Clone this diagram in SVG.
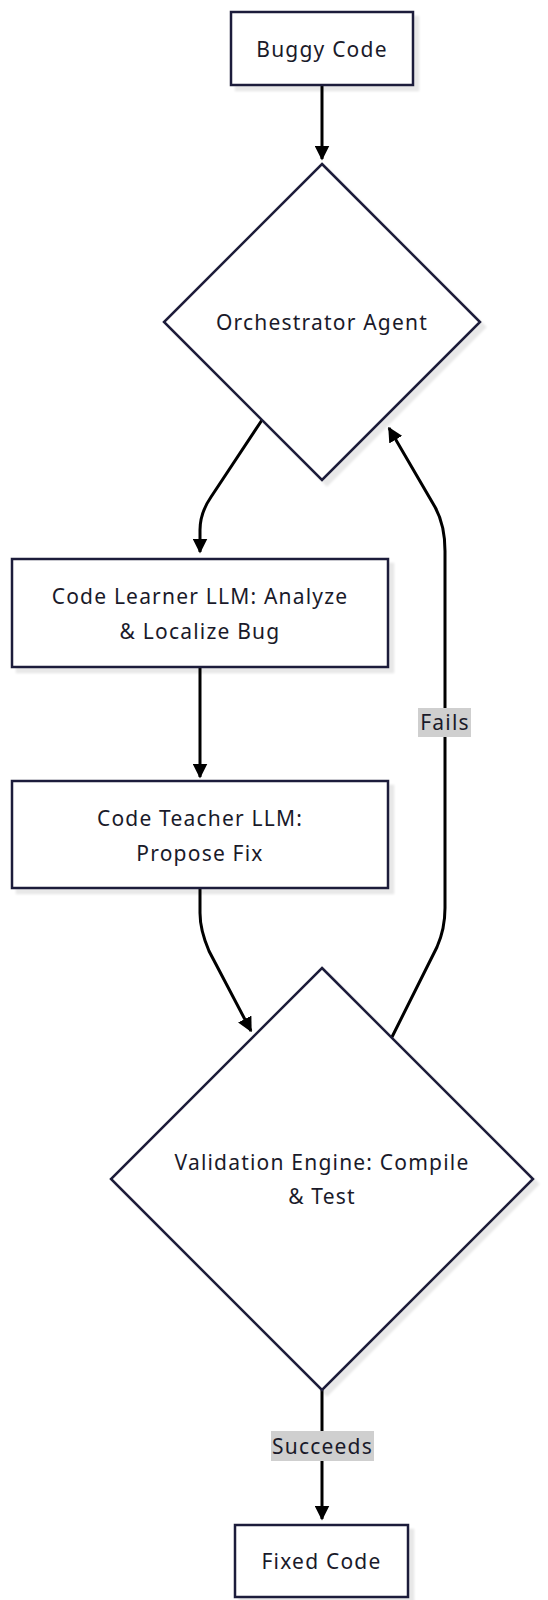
<svg xmlns="http://www.w3.org/2000/svg" width="548" height="1600" viewBox="0 0 548 1600">
<defs>
<style>
.node{fill:#ffffff;stroke:#1f1d3a;stroke-width:2.5;filter:url(#sh)}
.lbl{font-family:"Noto Sans","Open Sans",sans-serif;font-size:21px;letter-spacing:1.2px;fill:#1a1a2a;text-anchor:middle;dominant-baseline:central}
.edge{fill:none;stroke:#000;stroke-width:3;marker-end:url(#arr)}
.ebg{fill:#cfcfcf}
</style>
<filter id="sh" x="-10%" y="-10%" width="130%" height="130%">
<feDropShadow dx="5" dy="5" stdDeviation="1" flood-color="#000" flood-opacity="0.09"/>
</filter>
<marker id="arr" viewBox="0 0 10 10" refX="9" refY="5" markerWidth="5" markerHeight="5" orient="auto" markerUnits="strokeWidth">
<path d="M0,0 L10,5 L0,10 z" fill="#000"/>
</marker>
</defs>
<rect width="548" height="1600" fill="#ffffff"/>
<g id="connectors">
<path class="edge" d="M322,86 L322,159"/>
<path class="edge" d="M262,420 L211,497 Q200,513 200,530 L200,552"/>
<path class="edge" d="M200,668 L200,777"/>
<path class="edge" d="M200,889 L200,913 Q200,930 209,951 L251,1031"/>
<path class="edge" d="M392,1037 L437,947 Q445,929 445,908 L445,551 Q445,525 435,507 L389,428"/>
<path class="edge" d="M322,1390 L322,1519"/>
</g>
<g id="node-buggy">
<rect class="node" x="231" y="12" width="182" height="73"/>
<text class="lbl" x="322" y="48.5">Buggy Code</text>
</g>
<g id="node-orch">
<polygon class="node" points="322,164 480,322 322,480 164,322"/>
<text class="lbl" x="322" y="322">Orchestrator Agent</text>
</g>
<g id="node-learner">
<rect class="node" x="12" y="559" width="376" height="108"/>
<text class="lbl" x="200" y="596">Code Learner LLM: Analyze</text>
<text class="lbl" x="200" y="631">&amp; Localize Bug</text>
</g>
<g id="node-teacher">
<rect class="node" x="12" y="781" width="376" height="107"/>
<text class="lbl" x="200" y="818">Code Teacher LLM:</text>
<text class="lbl" x="200" y="853">Propose Fix</text>
</g>
<g id="node-validation">
<polygon class="node" points="322,968 533,1179 322,1390 111,1179"/>
<text class="lbl" x="322" y="1162">Validation Engine: Compile</text>
<text class="lbl" x="322" y="1196">&amp; Test</text>
</g>
<g id="node-fixed">
<rect class="node" x="235" y="1525" width="173" height="72"/>
<text class="lbl" x="321.5" y="1561">Fixed Code</text>
</g>
<g id="edge-labels">
<rect class="ebg" x="418" y="708" width="53" height="29"/>
<text class="lbl" x="445" y="722">Fails</text>
<rect class="ebg" x="271" y="1431" width="103" height="30"/>
<text class="lbl" x="322.5" y="1446">Succeeds</text>
</g>
</svg>
